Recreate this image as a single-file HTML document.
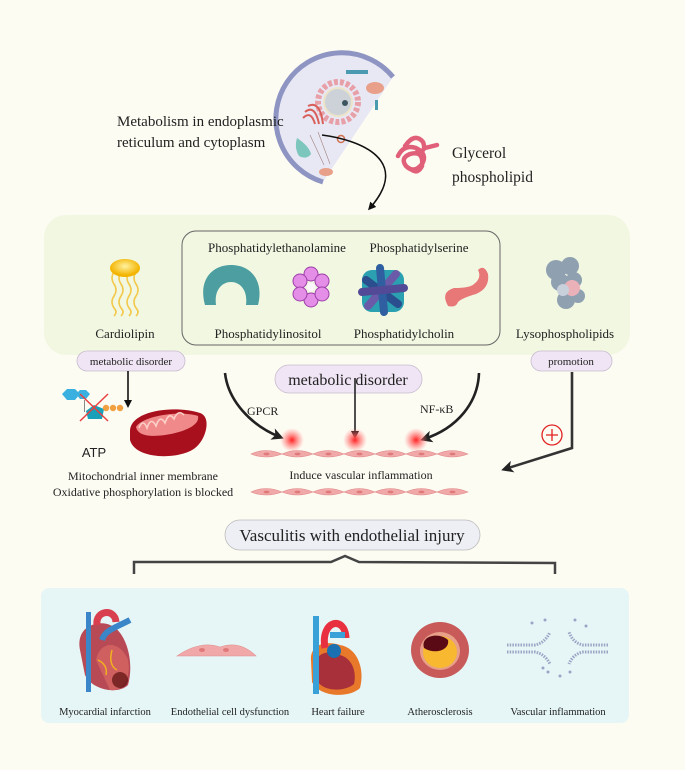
<!DOCTYPE html>
<html><head><meta charset="utf-8"><style>
html,body{margin:0;padding:0;background:#fdfcf3;}
svg{display:block;}
text{font-family:"Liberation Serif",serif;fill:#222;}
</style></head><body>
<svg width="685" height="770" viewBox="0 0 685 770" xmlns="http://www.w3.org/2000/svg">
<defs>
<marker id="ah" markerWidth="8" markerHeight="8" refX="5" refY="4" orient="auto" markerUnits="userSpaceOnUse"><path d="M0,0 L8,4 L0,8 Z" fill="#111"/></marker>
<marker id="ah2" markerWidth="12" markerHeight="12" refX="8" refY="6" orient="auto" markerUnits="userSpaceOnUse"><path d="M0,0 L12,6 L0,12 L3,6 Z" fill="#222"/></marker>
<radialGradient id="glow"><stop offset="0" stop-color="#ff2020"/><stop offset="0.3" stop-color="#ff5050" stop-opacity="0.8"/><stop offset="1" stop-color="#ff8080" stop-opacity="0"/></radialGradient>
<radialGradient id="jel" cx="0.5" cy="0.4"><stop offset="0" stop-color="#fff2a0"/><stop offset="1" stop-color="#f3b400"/></radialGradient>
<g id="cell"><path d="M0,4 Q15,-3 31,4 Q15,10 0,4 Z" fill="#f0a8a8" stroke="#e08888" stroke-width="0.6"/><ellipse cx="15.5" cy="4" rx="3" ry="1.4" fill="#e07a7a"/></g>
</defs>
<rect width="685" height="770" fill="#fdfcf3"/>

<!-- cell half -->
<path d="M393,77 A66,66 0 1 0 323,182 Z" fill="#e8e8f4"/>
<path d="M393,77 A66,66 0 1 0 323,182" fill="none" stroke="#8e95c2" stroke-width="5"/>
<circle cx="338" cy="102" r="20" fill="none" stroke="#e8a0a8" stroke-width="6" stroke-dasharray="4 2"/>
<circle cx="338" cy="102" r="14" fill="#cdd2d8" stroke="#ece4c8" stroke-width="2"/>
<circle cx="345" cy="103" r="3" fill="#3d5560"/>
<path d="M303,118 q8,-8 12,6" fill="none" stroke="#d9605a" stroke-width="2"/>
<path d="M305,112 q10,-8 14,12" fill="none" stroke="#d9605a" stroke-width="2"/>
<path d="M308,106 q12,-6 15,18" fill="none" stroke="#d9605a" stroke-width="2"/>
<path d="M297,138 q-3,10 2,18 q8,4 12,-2 q-2,-8 -14,-16 z" fill="#7cc6bd"/>
<ellipse cx="375" cy="88" rx="9" ry="6" fill="#e8a08a"/>
<rect x="346" y="70" width="22" height="4" fill="#4a9ab0"/>
<rect x="375" y="100" width="3" height="10" fill="#4a9ab0"/>
<circle cx="341" cy="139" r="3.5" fill="none" stroke="#d07050" stroke-width="1.5"/>
<ellipse cx="326" cy="172" rx="7" ry="4" fill="#e8a08a"/>
<path d="M310,135 l14,30 M318,132 l12,32" stroke="#a08080" stroke-width="0.6"/>
<!-- glycerol squiggle -->
<g fill="none" stroke="#e0607a" stroke-width="4.5" stroke-linecap="round">
<path d="M398,156 q6,-12 18,-8 q12,6 6,16 q-8,10 -16,2 q-6,-8 4,-12 q14,-4 12,12 q-4,8 -10,4"/>
<path d="M405,146 q10,-14 18,-4 q4,10 -6,10 M425,148 l12,-3"/>
</g>
<!-- arrow top -->
<path d="M322,135 C360,140 412,160 370,208" fill="none" stroke="#111" stroke-width="1.6" marker-end="url(#ah)"/>
<text x="117" y="126" font-size="15">Metabolism in endoplasmic</text>
<text x="117" y="147" font-size="15">reticulum and cytoplasm</text>
<text x="452" y="158" font-size="15.5">Glycerol</text>
<text x="452" y="182" font-size="15.5">phospholipid</text>

<!-- green box -->
<rect x="44" y="215" width="586" height="140" rx="22" fill="#f2f7e2"/>
<rect x="182" y="231" width="318" height="114" rx="14" fill="none" stroke="#666" stroke-width="1"/>
<text x="277" y="252" font-size="13" text-anchor="middle">Phosphatidylethanolamine</text>
<text x="419" y="252" font-size="13" text-anchor="middle">Phosphatidylserine</text>
<text x="268" y="338" font-size="13" text-anchor="middle">Phosphatidylinositol</text>
<text x="404" y="338" font-size="13" text-anchor="middle">Phosphatidylcholin</text>
<text x="125" y="338" font-size="13" text-anchor="middle">Cardiolipin</text>
<text x="565" y="338" font-size="13" text-anchor="middle">Lysophospholipids</text>
<!-- jellyfish -->
<g fill="none" stroke="#f2c94c" stroke-width="1.6">
<path d="M114,272 q-4,6 0,12 q4,6 0,12 q-4,6 0,12 q4,4 0,8"/>
<path d="M121,272 q-4,6 0,12 q4,6 0,12 q-4,6 0,12 q4,4 0,8"/>
<path d="M129,272 q-4,6 0,12 q4,6 0,12 q-4,6 0,12 q4,4 0,8"/>
<path d="M136,272 q-4,6 0,12 q4,6 0,12 q-4,6 0,12 q4,4 0,8"/>
</g>
<ellipse cx="125" cy="268" rx="15" ry="9" fill="url(#jel)"/>
<!-- teal arc -->
<path d="M205,305 C198,280 212,265 231,265 C252,265 264,282 258,305 L246,305 C248,290 240,282 231,282 C222,282 214,290 216,305 Z" fill="#4c9ea0"/>
<!-- purple flower -->
<g fill="#e48ee8" stroke="#9c3fa8" stroke-width="1">
<circle cx="311" cy="274" r="7"/><circle cx="311" cy="300" r="7"/><circle cx="300" cy="281" r="7"/><circle cx="322" cy="281" r="7"/><circle cx="300" cy="294" r="7"/><circle cx="322" cy="294" r="7"/></g>
<circle cx="311" cy="287" r="4" fill="#fdf6fd"/>
<!-- blue cluster -->
<rect x="362" y="270" width="42" height="42" rx="10" fill="#2aa0b0"/>
<g stroke-linecap="round" stroke-width="8" fill="none">
<path d="M366,280 L398,304" stroke="#2a4e8e"/><path d="M396,274 L368,306" stroke="#6a5aa8"/>
<path d="M380,268 L384,312" stroke="#2f5fa0"/><path d="M362,292 L404,288" stroke="#524a96"/></g>
<!-- red squiggle -->
<path d="M448,306 q-8,-14 6,-18 q16,0 20,-4 q8,-6 4,-14 q6,-6 10,4 q2,14 -12,20 q-14,4 -18,8 q-2,6 -10,4 z" fill="#e87878"/>
<!-- grey cluster -->
<g fill="#8fa0b0"><circle cx="556" cy="270" r="10"/><circle cx="570" cy="266" r="9"/><circle cx="560" cy="282" r="9"/><circle cx="574" cy="280" r="8"/><circle cx="566" cy="300" r="9"/><circle cx="578" cy="296" r="7"/></g>
<circle cx="572" cy="288" r="8" fill="#eab2b8"/>
<circle cx="563" cy="290" r="6" fill="#c8d0dc"/>

<!-- pills -->
<rect x="77" y="351" width="108" height="20" rx="10" fill="#f0e5f4" stroke="#c6bccf" stroke-width="0.8"/>
<text x="131" y="365" font-size="11" text-anchor="middle">metabolic disorder</text>
<rect x="531" y="351" width="81" height="20" rx="10" fill="#f0e5f4" stroke="#c6bccf" stroke-width="0.8"/>
<text x="571" y="365" font-size="11" text-anchor="middle">promotion</text>
<rect x="275" y="365" width="147" height="28" rx="14" fill="#f0e5f4" stroke="#c6bccf" stroke-width="0.8"/>
<text x="348" y="385" font-size="16" text-anchor="middle">metabolic disorder</text>

<!-- left arrow down -->
<line x1="128" y1="371" x2="128" y2="405" stroke="#111" stroke-width="1.6" marker-end="url(#ah)"/>
<!-- ATP icon -->
<path d="M62,394 l5,-5 h8 l5,5 l-5,6 h-8 z" fill="#3ab0e0"/>
<path d="M76,394 l4,-4 h6 l4,4 l-4,5 h-6 z" fill="#3ab0e0"/>
<rect x="84" y="400" width="1" height="12" fill="#888"/>
<path d="M86,411 l8,-6 l10,4 l-2,10 h-14 z" fill="#1aa0b8"/>
<circle cx="106" cy="408" r="3.2" fill="#f0a040"/><circle cx="113" cy="408" r="3.2" fill="#f0a040"/><circle cx="120" cy="408" r="3.2" fill="#f0a040"/>
<path d="M80,394 L108,421 M108,394 L80,421" stroke="#e84040" stroke-width="1.5"/>
<text x="94" y="457" font-size="13" text-anchor="middle" style="font-family:'Liberation Sans',sans-serif">ATP</text>
<!-- mitochondrion -->
<path d="M130,430 C132,410 175,405 200,413 C212,417 206,440 195,448 C180,460 135,460 130,440 Z" fill="#a8101e"/>
<path d="M136,427 C142,416 180,410 198,416 C200,425 185,432 165,435 C150,437 138,436 136,427 Z" fill="#f08a8a"/>
<path d="M139,428 q4,-10 8,0 q4,-12 9,-2 q4,-12 9,-3 q4,-12 9,-4 q4,-10 10,-4" fill="none" stroke="#fcd0c8" stroke-width="1.6"/>
<text x="143" y="480" font-size="12" text-anchor="middle">Mitochondrial inner membrane</text>
<text x="143" y="496" font-size="12" text-anchor="middle">Oxidative phosphorylation is blocked</text>

<!-- center arrows -->
<path d="M225,373 C228,400 250,425 280,437" fill="none" stroke="#222" stroke-width="2.6" marker-end="url(#ah2)"/>
<line x1="355" y1="378" x2="355" y2="436" stroke="#222" stroke-width="1.6" marker-end="url(#ah)"/>
<path d="M479,373 C478,402 458,428 424,439" fill="none" stroke="#222" stroke-width="2.6" marker-end="url(#ah2)"/>
<text x="247" y="415" font-size="12">GPCR</text>
<text x="420" y="413" font-size="12">NF-κB</text>
<circle cx="292" cy="440" r="12" fill="url(#glow)"/>
<circle cx="355" cy="440" r="12" fill="url(#glow)"/>
<circle cx="416" cy="440" r="12" fill="url(#glow)"/>
<g>
<use href="#cell" x="251" y="450"/><use href="#cell" x="282" y="450"/><use href="#cell" x="313" y="450"/><use href="#cell" x="344" y="450"/><use href="#cell" x="375" y="450"/><use href="#cell" x="406" y="450"/><use href="#cell" x="437" y="450"/>
<use href="#cell" x="251" y="488"/><use href="#cell" x="282" y="488"/><use href="#cell" x="313" y="488"/><use href="#cell" x="344" y="488"/><use href="#cell" x="375" y="488"/><use href="#cell" x="406" y="488"/><use href="#cell" x="437" y="488"/>
</g>
<text x="361" y="479" font-size="12" text-anchor="middle">Induce vascular inflammation</text>
<!-- promotion arrow -->
<path d="M572,372 L572,448 L505,469" fill="none" stroke="#333" stroke-width="2.6" marker-end="url(#ah2)"/>
<circle cx="552" cy="435" r="10" fill="none" stroke="#e02020" stroke-width="1.3"/>
<path d="M546,435 h12 M552,429 v12" stroke="#e02020" stroke-width="1.3"/>

<!-- vasculitis -->
<rect x="225" y="520" width="255" height="30" rx="15" fill="#eeeff5" stroke="#bbb" stroke-width="0.8"/>
<text x="352" y="541" font-size="17" text-anchor="middle">Vasculitis with endothelial injury</text>
<path d="M134,574 L134,562 L331,562 L345,556 L359,562 L555,563 L555,574" fill="none" stroke="#444" stroke-width="2.5"/>

<!-- blue box -->
<rect x="41" y="588" width="588" height="135" rx="8" fill="#e6f6f6"/>
<!-- heart 1 -->
<path d="M80,650 C75,625 100,620 110,625 C125,630 135,660 128,685 C118,695 92,690 85,675 Z" fill="#b84a55"/>
<path d="M96,660 C100,640 120,640 128,660 C132,680 120,692 110,690 Z" fill="#d06060"/>
<circle cx="120" cy="680" r="8" fill="#5a1010" opacity="0.7"/>
<rect x="86" y="612" width="5" height="80" fill="#3a86c8"/>
<path d="M97,625 C95,610 115,608 116,622" fill="none" stroke="#d84050" stroke-width="7"/>
<path d="M102,640 C105,630 115,628 130,620" fill="none" stroke="#3a86c8" stroke-width="6"/>
<path d="M98,660 q10,5 8,15 M112,650 q-4,15 5,20" fill="none" stroke="#f0b020" stroke-width="1.5"/>
<!-- cells -->
<path d="M177,656 Q200,640 220,647 Q240,640 256,656 Z" fill="#f0a8a8" stroke="#e09090" stroke-width="0.6"/>
<ellipse cx="202" cy="650" rx="3" ry="2" fill="#e07a7a"/><ellipse cx="226" cy="650" rx="3" ry="2" fill="#e07a7a"/>
<!-- heart 2 -->
<path d="M311,660 C310,645 325,640 340,645 C358,648 365,670 360,688 C350,698 320,698 312,682 Z" fill="#e8782a"/>
<path d="M316,662 C318,652 330,650 340,655 C352,658 357,672 354,684 C345,692 322,692 317,680 Z" fill="#a8303a"/>
<rect x="313" y="616" width="6" height="78" fill="#3aa0d8"/>
<path d="M325,648 C320,620 345,615 346,638" fill="none" stroke="#e83040" stroke-width="7"/>
<circle cx="334" cy="651" r="7" fill="#1a70b0"/>
<rect x="330" y="632" width="15" height="6" fill="#3aa0d8"/>
<!-- atherosclerosis -->
<ellipse cx="440" cy="650" rx="29" ry="28" fill="#c85a5a"/>
<ellipse cx="440" cy="651" rx="20" ry="19" fill="#e8a088"/>
<ellipse cx="440" cy="652" rx="17" ry="16" fill="#f8b830"/>
<path d="M424,648 C420,635 440,632 448,640 C450,650 435,655 424,648 Z" fill="#5a0a14"/>
<!-- membrane -->
<g stroke="#9aa4c4" stroke-width="3" stroke-dasharray="1.5 1.2" fill="none">
<path d="M507,645 L535,645 Q545,643 550,632"/><path d="M507,652 L535,652 Q545,654 550,664"/>
<path d="M608,645 L583,645 Q573,643 569,632"/><path d="M608,652 L583,652 Q573,654 569,664"/>
</g>
<g fill="#9aa4c4"><circle cx="532" cy="623" r="1.5"/><circle cx="545" cy="620" r="1.5"/><circle cx="575" cy="620" r="1.5"/><circle cx="586" cy="626" r="1.5"/><circle cx="548" cy="672" r="1.5"/><circle cx="560" cy="676" r="1.5"/><circle cx="570" cy="672" r="1.5"/><circle cx="543" cy="668" r="1.5"/></g>
<g font-size="10.5" text-anchor="middle">
<text x="105" y="715">Myocardial infarction</text>
<text x="230" y="715">Endothelial cell dysfunction</text>
<text x="338" y="715">Heart failure</text>
<text x="440" y="715">Atherosclerosis</text>
<text x="558" y="715">Vascular inflammation</text>
</g>
</svg>
</body></html>
